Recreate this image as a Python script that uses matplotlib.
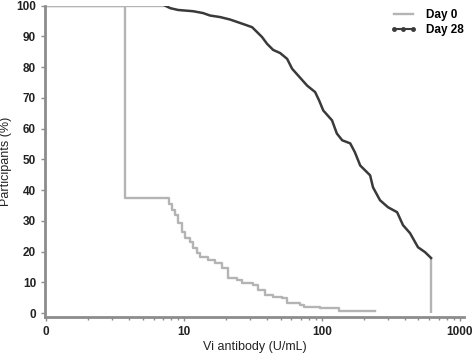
import matplotlib
matplotlib.use("Agg")
import matplotlib.pyplot as plt
from matplotlib.lines import Line2D
from matplotlib.ticker import FixedLocator, FixedFormatter, LogLocator, NullFormatter

# Reverse cumulative distribution of Vi antibody (U/mL) vs % participants
day0_x = [1, 3.73, 7.53, 7.79, 8.19, 8.61, 9.05, 9.67, 10.2, 11.1, 11.6, 12.4, 13.1,
          14.9, 16.8, 18.9, 20.8, 24.2, 26.3, 31.6, 34.4, 38.6, 44.2, 51.3, 55.8,
          69.3, 74.1, 96.7, 133, 242]
day0_y = [100, 37.5, 37.5, 35.6, 33.4, 31.8, 29.2, 26.3, 24.4, 23.1, 21.1, 19.5, 18.2,
          17.2, 16.2, 14.6, 11.4, 10.7, 9.7, 9.1, 7.5, 5.8, 5.2, 4.9, 3.2,
          2.6, 2.0, 1.5, 0.7, 0.7]

day28_x = [7.28, 7.92, 9.05, 11.6, 13.7, 15.4, 18.2, 21.5, 24.6, 27.7, 31.1, 33.8,
           36.7, 39.9, 44.2, 49.6, 55.8, 60.6, 67.0, 77.9, 89.0, 95.1, 102, 118,
           128, 140, 160, 173, 189, 223, 234, 263, 301, 350, 386, 434, 496, 558, 617]
day28_y = [100, 99.2, 98.6, 98.2, 97.6, 96.8, 96.3, 95.5, 94.6, 93.8, 93.0, 91.4,
           89.8, 87.6, 85.6, 84.6, 82.7, 79.5, 77.3, 74.0, 71.9, 69.2, 65.9, 62.7,
           58.4, 56.2, 55.2, 52.3, 48.0, 44.8, 40.9, 36.7, 34.4, 32.8, 28.6, 26.0,
           21.4, 19.8, 17.9]

x_ticks = [1, 10, 100, 1000]
x_labels = ["0", "10", "100", "1000"]
y_ticks = list(range(0, 101, 10))

light = "#b4b4b4"
dark = "#3a3a3a"

plt.rcParams["font.family"] = ["Liberation Sans", "DejaVu Sans"]

fig = plt.figure(figsize=(4.74, 3.55), dpi=100)
ax = fig.add_axes([0.095, 0.107, 0.884, 0.877])

# Day 0
ax.plot(day0_x, day0_y, drawstyle="steps-post", color=light, lw=1.7)
# Day 28 (flat start and final drop drawn light)
ax.hlines(100, 1, day28_x[0], color=light, lw=1.7)
ax.vlines(day28_x[-1], 0, day28_y[-1], color=light, lw=1.7)
ax.plot(day28_x, day28_y, color=dark, lw=1.8)

ax.set_xscale("log")
ax.set_xlim(0.98, 1070)
ax.set_ylim(-1.3, 100)

ax.xaxis.set_major_locator(FixedLocator(x_ticks))
ax.xaxis.set_major_formatter(FixedFormatter(x_labels))
ax.xaxis.set_minor_locator(LogLocator(base=10, subs=range(2, 10)))
ax.xaxis.set_minor_formatter(NullFormatter())
ax.set_yticks(y_ticks)

for s in ["top", "right"]:
    ax.spines[s].set_visible(False)
for s in ["left", "bottom"]:
    ax.spines[s].set_color("#8c8c8c")
    ax.spines[s].set_linewidth(2)

ax.tick_params(axis="both", which="major", length=3, width=1, color="#8c8c8c",
               labelsize=8.5, labelcolor="#222222")
ax.tick_params(axis="x", which="minor", length=2, width=1, color="#8c8c8c")
for lab in ax.get_xticklabels() + ax.get_yticklabels():
    lab.set_fontweight("bold")

ax.set_xlabel("Vi antibody (U/mL)", fontsize=9, color="#222222", labelpad=2)
ax.set_ylabel("Participants (%)", fontsize=9, color="#222222", labelpad=3)

# legend: Day 28 handle shows a line with dots
handles = [Line2D([], [], color=light, lw=1.7),
           Line2D([], [], color=dark, lw=1.5, marker="o", ms=2.5)]
leg = ax.legend(handles, ["Day 0", "Day 28"], loc="upper right", frameon=False,
                fontsize=8.5, handlelength=2.2, borderaxespad=0.0, labelspacing=0.3,
                numpoints=3, bbox_to_anchor=(1.01, 1.005))
for t in leg.get_texts():
    t.set_fontweight("bold")

fig.savefig("out.png", dpi=100)
